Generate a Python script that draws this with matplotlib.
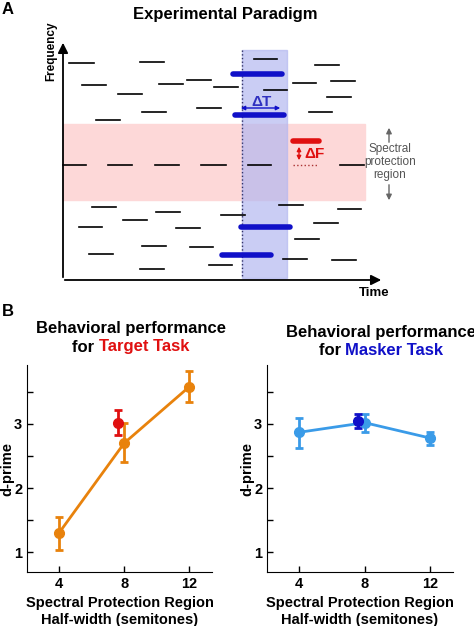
import matplotlib
matplotlib.use("Agg")
import matplotlib.pyplot as plt
import numpy as np

plt.rcParams['font.family'] = ['Liberation Sans', 'DejaVu Sans']

# Panel A segments (pixel-coordinate diagram)
black_x0 = [69,140,254,315,82,159,187,214,264,293,331,118,327,142,197,309,96,
            63,108,155,201,248,340,
            92,156,221,279,338,123,79,176,314,295,142,190,89,283,332,209,140]
black_x1 = [94,164,277,339,106,183,211,238,287,316,355,142,351,166,221,332,120,
            86,132,179,226,271,364,
            116,180,245,303,361,147,102,200,338,319,166,213,113,307,356,232,164]
black_y = [63,62,59,65,85,84,80,87,90,83,81,94,97,112,108,112,120,
           165,165,165,165,165,165,
           207,212,215,205,209,220,227,228,223,239,246,247,254,259,260,265,269]
blue_x0 = [233,235,241,222]
blue_x1 = [282,284,290,271]
blue_y = [74,115,227,255]

# Panel B data
xs = [4, 8, 12]
target = [1.30, 2.70, 3.58]
target_lo = [1.03, 2.40, 3.35]
target_hi = [1.55, 3.02, 3.82]
target_ref_x, target_ref, target_ref_lo, target_ref_hi = 7.6, 3.02, 2.83, 3.22
masker = [2.87, 3.02, 2.78]
masker_lo = [2.63, 2.88, 2.67]
masker_hi = [3.10, 3.16, 2.88]
masker_ref_x, masker_ref, masker_ref_lo, masker_ref_hi = 7.6, 3.05, 2.93, 3.16

W, H = 474, 626
fig = plt.figure(figsize=(W/100, H/100), dpi=100)

axA = fig.add_axes([0, 1-310/H, 1, 310/H])
axA.set_xlim(0, W); axA.set_ylim(310, 0); axA.axis('off')
axA.add_patch(plt.Rectangle((63,124), 302, 76, color='#fdd8d8', zorder=0))
axA.add_patch(plt.Rectangle((242,50), 45, 228, color='#b4b8f0', alpha=0.7, zorder=1))
axA.plot([242,242],[50,278], color='#333366', ls=':', lw=1, zorder=3)
for a, b, y in zip(black_x0, black_x1, black_y):
    axA.plot([a,b],[y,y], color='black', lw=1.2, zorder=4)
for a, b, y in zip(blue_x0, blue_x1, blue_y):
    axA.plot([a,b],[y,y], color='#1010c8', lw=4, solid_capstyle='round', zorder=5)
axA.plot([293,319],[141,141], color='#e01010', lw=4, solid_capstyle='round', zorder=5)
axA.annotate('', xy=(63,40), xytext=(63,280), arrowprops=dict(arrowstyle='-|>', color='black', lw=1.3, mutation_scale=15))
axA.annotate('', xy=(384,280), xytext=(62,280), arrowprops=dict(arrowstyle='-|>', color='black', lw=1.3, mutation_scale=15))
axA.annotate('', xy=(238,108), xytext=(283,108), arrowprops=dict(arrowstyle='<|-|>', color='#1010c8', lw=1, mutation_scale=6), zorder=6)
axA.text(262,102,'ΔT', color='#3030c0', fontsize=11, fontweight='bold', ha='center', va='center', zorder=6)
axA.annotate('', xy=(299,144), xytext=(299,163), arrowprops=dict(arrowstyle='<|-|>', color='#e01010', lw=1, mutation_scale=6), zorder=6)
axA.plot([293,318],[165,165], color='#aa3333', ls=':', lw=1)
axA.text(304,154,'ΔF', color='#e01010', fontsize=11, fontweight='bold', ha='left', va='center')
axA.text(390,162,'Spectral\nprotection\nregion', color='#555555', fontsize=8.5, ha='center', va='center', linespacing=1.1)
axA.annotate('', xy=(389,125), xytext=(389,145), arrowprops=dict(arrowstyle='-|>', color='#666666', lw=1, mutation_scale=8))
axA.annotate('', xy=(389,203), xytext=(389,182), arrowprops=dict(arrowstyle='-|>', color='#666666', lw=1, mutation_scale=8))
axA.text(225,14,'Experimental Paradigm', fontsize=12, fontweight='bold', ha='center', va='center')
axA.text(8,10,'A', fontsize=12, fontweight='bold', ha='center', va='center')
axA.text(51,51,'Frequency', fontsize=8.5, fontweight='bold', rotation=90, ha='center', va='center')
axA.text(374,293,'Time', fontsize=9.5, fontweight='bold', ha='center', va='center')
axA.text(8,311,'B', fontsize=12, fontweight='bold', ha='center', va='center')

def panel(left, right, main, lo, hi, col, rx, r, rlo, rhi, rcol):
    ax = fig.add_axes([left/W, 1-572/H, (right-left)/W, (572-365)/H])
    ax.set_xlim(2.03, 13.4); ax.set_ylim(0.69, 3.92)
    for s in ['top','right']: ax.spines[s].set_visible(False)
    ax.set_xticks(xs); ax.set_yticks([1,1.5,2,2.5,3,3.5]); ax.set_yticklabels(['1','','2','','3',''])
    ax.tick_params(direction='in', labelsize=10.5, width=1, length=4)
    for t in ax.get_xticklabels()+ax.get_yticklabels(): t.set_fontweight('bold')
    m = np.array(main); e = [m-np.array(lo), np.array(hi)-m]
    ax.errorbar(xs, main, yerr=e, color=col, lw=2, marker='o', ms=7, capsize=3, capthick=2, elinewidth=2)
    ax.errorbar([rx],[r], yerr=[[r-rlo],[rhi-r]], color=rcol, marker='o', ms=7, capsize=3, capthick=2, elinewidth=2)
    ax.set_ylabel('d-prime', fontsize=10.5, fontweight='bold', labelpad=0)
    ax.set_xlabel('Spectral Protection Region\nHalf-width (semitones)', fontsize=10.5, fontweight='bold', labelpad=4)
    return ax

panel(27, 212, target, target_lo, target_hi, '#e8820c', target_ref_x, target_ref, target_ref_lo, target_ref_hi, '#e01010')
panel(267, 453, masker, masker_lo, masker_hi, '#3a9be8', masker_ref_x, masker_ref, masker_ref_lo, masker_ref_hi, '#1010c8')

fig.canvas.draw()
rend = fig.canvas.get_renderer()

def title(cx, y1, y2, word, col):
    kw = dict(fontsize=12, fontweight='bold', va='center')
    fig.text(cx/W, 1-y1/H, 'Behavioral performance', ha='center', **kw)
    a = fig.text(0, 1-y2/H, 'for ', ha='left', **kw)
    b = fig.text(0, 1-y2/H, word, ha='left', color=col, **kw)
    wa = a.get_window_extent(rend).width
    wb = b.get_window_extent(rend).width
    x0 = cx - (wa + wb)/2
    a.set_x(x0/W); b.set_x((x0+wa)/W)

title(131, 328, 347, 'Target Task', '#e01010')
title(381, 332, 350, 'Masker Task', '#1010c8')

fig.savefig('out.png', dpi=100)
